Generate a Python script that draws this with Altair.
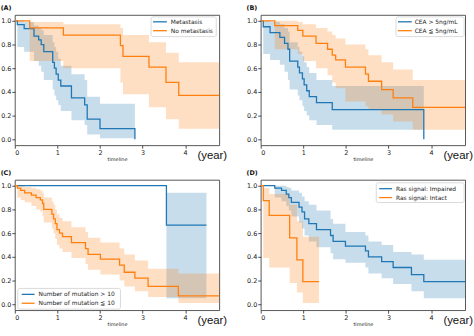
import altair as alt
import pandas as pd

BLUE = "#1f77b4"
ORANGE = "#ff7f0e"
W, H = 207, 132

# ---------------- Panel A ----------------
a_names = ["Metastasis", "No metastasis"]
a1_t = [0, 0.06, 0.22, 0.45, 0.56, 0.62, 0.68, 0.89, 0.93, 0.97, 1.02, 1.08, 1.33, 1.64, 1.70, 2.00, 2.82]
a1_s = [1.0, 0.967, 0.935, 0.87, 0.84, 0.80, 0.74, 0.65, 0.60, 0.55, 0.50, 0.45, 0.35, 0.29, 0.17, 0.09, 0.0]
a1_lo = [1.0, 0.78, 0.74, 0.66, 0.62, 0.57, 0.50, 0.42, 0.37, 0.33, 0.29, 0.24, 0.16, 0.12, 0.04, 0.01, 0.01]
a1_hi = [1.0, 1.0, 0.99, 0.96, 0.94, 0.92, 0.88, 0.82, 0.78, 0.74, 0.68, 0.62, 0.55, 0.50, 0.36, 0.30, 0.30]
a2_t = [0, 0.35, 1.14, 2.48, 2.54, 3.15, 3.55, 3.85, 4.8]
a2_s = [1.0, 0.94, 0.88, 0.79, 0.70, 0.61, 0.48, 0.37, 0.37]
a2_lo = [1.0, 0.66, 0.60, 0.48, 0.38, 0.27, 0.17, 0.09, 0.09]
a2_hi = [1.0, 0.99, 0.97, 0.94, 0.88, 0.82, 0.73, 0.65, 0.65]

# ---------------- Panel B ----------------
b_names = ["CEA > 5ng/mL", "CEA ≦ 5ng/mL"]
b1_t = [0, 0.06, 0.22, 0.45, 0.56, 0.64, 0.68, 0.87, 0.91, 0.98, 1.02, 1.08, 1.14, 1.31, 1.68, 3.83]
b1_s = [1.0, 0.95, 0.90, 0.86, 0.81, 0.76, 0.66, 0.61, 0.56, 0.51, 0.46, 0.41, 0.36, 0.31, 0.25, 0.0]
b1_lo = [1.0, 0.72, 0.67, 0.63, 0.57, 0.50, 0.42, 0.37, 0.33, 0.28, 0.24, 0.20, 0.16, 0.12, 0.08, 0.08]
b1_hi = [1.0, 1.0, 0.99, 0.97, 0.94, 0.91, 0.82, 0.78, 0.74, 0.70, 0.65, 0.61, 0.56, 0.50, 0.45, 0.45]
b2_t = [0, 0.33, 0.87, 0.99, 1.30, 1.57, 1.68, 1.76, 1.99, 2.46, 2.53, 2.84, 3.11, 3.57, 4.8]
b2_s = [1.0, 0.96, 0.92, 0.87, 0.81, 0.76, 0.71, 0.67, 0.61, 0.55, 0.49, 0.42, 0.35, 0.27, 0.27]
b2_lo = [1.0, 0.76, 0.72, 0.66, 0.60, 0.54, 0.48, 0.43, 0.32, 0.28, 0.25, 0.21, 0.15, 0.08, 0.08]
b2_hi = [1.0, 1.0, 0.99, 0.97, 0.94, 0.91, 0.88, 0.85, 0.80, 0.76, 0.71, 0.65, 0.59, 0.50, 0.50]

# ---------------- Panel C ----------------
c_names = ["Number of mutation > 10", "Number of mutation ≦ 10"]
c1_t = [0, 3.56, 4.5]
c1_s = [1.0, 0.667, 0.667]
c1_lo = [1.0, 0.05, 0.05]
c1_hi = [1.0, 0.94, 0.94]
c2_t = [0, 0.06, 0.14, 0.23, 0.39, 0.50, 0.60, 0.65, 0.68, 0.87, 0.91, 0.95, 0.99, 1.05, 1.12,
        1.33, 1.66, 1.72, 2.01, 2.46, 2.57, 2.82, 3.13, 3.84, 4.8]
c2_s = [1.0, 0.98, 0.96, 0.94, 0.92, 0.90, 0.88, 0.85, 0.80, 0.76, 0.72, 0.68, 0.63, 0.60, 0.57,
        0.52, 0.47, 0.42, 0.38, 0.33, 0.27, 0.22, 0.15, 0.07, 0.07]
c2_lo = [1.0, 0.90, 0.88, 0.86, 0.83, 0.80, 0.78, 0.74, 0.69, 0.64, 0.60, 0.55, 0.50, 0.47, 0.44,
         0.39, 0.34, 0.29, 0.25, 0.20, 0.15, 0.11, 0.06, 0.01, 0.01]
c2_hi = [1.0, 1.0, 1.0, 0.99, 0.98, 0.97, 0.96, 0.94, 0.90, 0.87, 0.84, 0.80, 0.76, 0.73, 0.70,
         0.65, 0.61, 0.56, 0.52, 0.47, 0.42, 0.37, 0.30, 0.26, 0.26]

# ---------------- Panel D ----------------
d_names = ["Ras signal: Impaired", "Ras signal: Intact"]
d1_t = [0, 0.33, 0.49, 0.60, 0.66, 0.72, 0.90, 0.97, 1.03, 1.13, 1.31, 1.64, 1.70, 1.99,
        2.46, 2.53, 2.84, 3.11, 3.54, 3.83, 4.8]
d1_s = [1.0, 0.98, 0.96, 0.93, 0.90, 0.86, 0.82, 0.78, 0.72, 0.68, 0.63, 0.58, 0.53, 0.49,
        0.45, 0.40, 0.36, 0.31, 0.25, 0.19, 0.19]
d1_lo = [1.0, 0.90, 0.87, 0.83, 0.79, 0.74, 0.69, 0.64, 0.58, 0.53, 0.48, 0.43, 0.38, 0.35,
         0.31, 0.26, 0.22, 0.17, 0.11, 0.05, 0.05]
d1_hi = [1.0, 1.0, 1.0, 0.99, 0.98, 0.96, 0.94, 0.91, 0.87, 0.84, 0.79, 0.72, 0.68, 0.61,
         0.58, 0.53, 0.50, 0.44, 0.42, 0.375, 0.375]
d2_t = [0, 0.06, 0.20, 0.68, 0.85, 0.99, 1.37]
d2_s = [1.0, 0.875, 0.75, 0.56, 0.375, 0.19, 0.19]
d2_lo = [1.0, 0.39, 0.31, 0.18, 0.10, 0.01, 0.01]
d2_hi = [1.0, 0.98, 0.93, 0.84, 0.70, 0.57, 0.57]


def km(t, s, lo, hi, name):
    return pd.DataFrame({"t": t, "s": s, "lo": lo, "hi": hi, "series": name, "band": name})


def legend_box(names, box, sw, tx, rows):
    """Legend drawn as marks: box=(x1,x2,y1,y2) px, sw=(x1,x2) swatch, tx text x, rows y."""
    one = pd.DataFrame({"k": [0]})
    layers = [
        alt.Chart(one).mark_rect(fill="white", stroke="#cccccc", strokeWidth=0.8,
                                 cornerRadius=2, opacity=0.9).encode(
            x=alt.value(box[0]), x2=alt.value(box[1]),
            y=alt.value(box[2]), y2=alt.value(box[3]))
    ]
    for name, col, ry in zip(names, [BLUE, ORANGE], rows):
        layers.append(
            alt.Chart(one).mark_rule(color=col, strokeWidth=1.3).encode(
                x=alt.value(sw[0]), x2=alt.value(sw[1]), y=alt.value(ry)))
        layers.append(
            alt.Chart(pd.DataFrame({"label": [name]})).mark_text(
                align="left", baseline="middle", fontSize=6, font="DejaVu Sans", color="#222"
            ).encode(text="label:N", x=alt.value(tx), y=alt.value(ry)))
    return layers


def panel(df, names, letter, leg):
    x = alt.X("t:Q", scale=alt.Scale(domain=[0, 4.8], nice=False, zero=False),
              axis=alt.Axis(title="timeline", values=[0, 1, 2, 3, 4], format="d"))
    yscale = alt.Scale(domain=[-0.05, 1.05], nice=False, zero=False)
    yaxis = alt.Axis(title=None, values=[0, 0.2, 0.4, 0.6, 0.8, 1.0], format=".1f")
    cscale = alt.Scale(domain=names, range=[BLUE, ORANGE])
    band = alt.Chart(df).mark_area(interpolate="step-after", opacity=0.25).encode(
        x=x,
        y=alt.Y("lo:Q", scale=yscale, axis=yaxis),
        y2="hi:Q",
        fill=alt.Fill("band:N", scale=cscale, legend=None),
    )
    line = alt.Chart(df).mark_line(interpolate="step-after", strokeWidth=1.3).encode(
        x=x,
        y=alt.Y("s:Q", scale=yscale, axis=yaxis),
        stroke=alt.Stroke("series:N", scale=cscale, legend=None),
    )
    year = alt.Chart(pd.DataFrame({"label": ["(year)"]})).mark_text(
        align="left", baseline="middle", fontSize=11.5, font="Liberation Sans", color="#111"
    ).encode(text="label:N", x=alt.value(W - 22), y=alt.value(H + 11))
    return alt.layer(band, line, year, *legend_box(names, *leg)).properties(
        width=W, height=H,
        title=alt.TitleParams(letter, anchor="start", fontSize=6.5, fontWeight="bold",
                              font="DejaVu Sans", offset=3, color="#111"),
    )


dfA = pd.concat([km(a1_t, a1_s, a1_lo, a1_hi, a_names[0]), km(a2_t, a2_s, a2_lo, a2_hi, a_names[1])])
dfB = pd.concat([km(b1_t, b1_s, b1_lo, b1_hi, b_names[0]), km(b2_t, b2_s, b2_lo, b2_hi, b_names[1])])
dfC = pd.concat([km(c1_t, c1_s, c1_lo, c1_hi, c_names[0]), km(c2_t, c2_s, c2_lo, c2_hi, c_names[1])])
dfD = pd.concat([km(d1_t, d1_s, d1_lo, d1_hi, d_names[0]), km(d2_t, d2_s, d2_lo, d2_hi, d_names[1])])

legA = ((138, 204, 2, 22), (140, 154), 158, (7, 16))
legB = ((137, 206, 2, 22), (139, 153), 156, (7, 16))
legC = ((3, 107, 110, 131), (7, 20), 24, (116, 125))
legD = ((117, 206, 3, 23), (120, 133), 137, (9, 18))

chart = alt.concat(
    panel(dfA, a_names, "(A)", legA),
    panel(dfB, b_names, "(B)", legB),
    panel(dfC, c_names, "(C)", legC),
    panel(dfD, d_names, "(D)", legD),
    columns=2,
    spacing={"row": 8, "column": 18},
).resolve_scale(fill="independent", stroke="independent").properties(
    padding={"left": 0, "top": 3, "right": 0, "bottom": 0}
).configure_axis(
    labelFont="DejaVu Sans", labelFontSize=6.5, labelColor="#222",
    titleFont="DejaVu Sans", titleFontSize=5, titleFontWeight="normal", titleColor="#222",
    tickSize=3, tickColor="#222", tickWidth=0.8, domain=False, grid=False,
    labelPadding=1, titlePadding=1,
).configure_view(stroke="#444", strokeWidth=0.9)

chart.save("out.html", embed_options={"renderer": "svg", "actions": False})
